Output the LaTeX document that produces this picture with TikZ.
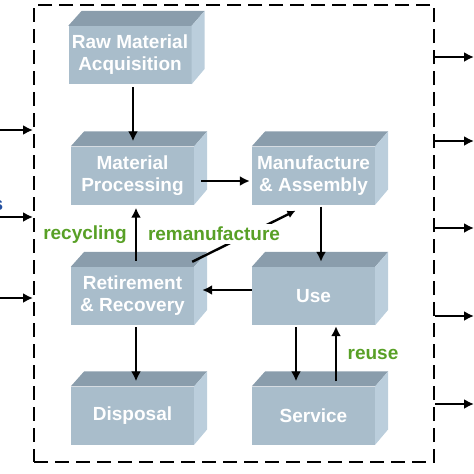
\documentclass[tikz,border=0pt]{standalone}
\usepackage{fontspec}
\setmainfont{Liberation Sans}
\usetikzlibrary{arrows.meta, positioning, calc}
\definecolor{frontc}{RGB}{169,189,203}
\definecolor{topc}{RGB}{138,157,172}
\definecolor{sidec}{RGB}{187,206,220}
\definecolor{labelgreen}{RGB}{88,160,38}
\definecolor{labelblue}{RGB}{36,80,160}
\tikzset{
  block/.style={fill=frontc, text=white, inner sep=0pt, minimum width=123pt, minimum height=58pt,
    align=center, font=\fontsize{19}{22}\selectfont\bfseries},
  flow/.style={line width=2.8pt, -{Latex[length=10pt,width=10pt]}},
  frame/.style={draw, line width=2pt, dash pattern=on 14pt off 7pt, minimum width=400pt, minimum height=457pt, inner sep=0pt},
  tag/.style={text=labelgreen, font=\fontsize{19}{22}\selectfont\bfseries, inner sep=1pt}
}
\begin{document}
\begin{tikzpicture}[x=1pt,y=-1pt]
\useasboundingbox (0,0) rectangle (474,474);
\node[frame] (frame) at (234,233.5) {};
% blocks
\node[block] (raw) at (130,55) {Raw Material\\Acquisition};
\node[block] (proc) at (132.5,175.5) {Material\\Processing};
\node[block] (manu) at (313.5,175.5) {Manufacture\\\& Assembly};
\node[block] (ret) at (132.5,296) {Retirement\\\& Recovery};
\node[block] (use) at (313.5,296) {Use};
\node[block] (disp) at (132.5,415.5) {Disposal};
\node[block] (serv) at (313.5,415.5) {Service};
\foreach \n in {raw,proc,manu,ret,use,disp,serv}{
  \fill[topc] (\n.north west) -- (\n.north east) -- ++(13,-15) -- ++(-123,0) -- cycle;
  \fill[sidec] (\n.north east) -- ++(13,-15) -- ++(0,58) -- (\n.south east) -- cycle;
}
% flows
\draw[flow, shorten <=3pt, shorten >=5pt] ([xshift=3pt]raw.south) -- ([xshift=0.5pt]proc.north);
\draw[flow, shorten <=7pt, shorten >=2pt] ([yshift=-5.5pt]proc.east) -- ([yshift=-5.5pt]manu.west);
\draw[flow, shorten <=2pt, shorten >=5pt] ([xshift=7.5pt]manu.south) -- ([xshift=7.5pt]use.north);
\draw[flow, shorten >=8pt] ([yshift=6pt]use.west) -- ([yshift=6pt]ret.east);
\draw[flow, shorten >=3pt] ([xshift=3.5pt,yshift=6pt]ret.north) -- ([xshift=3.5pt]proc.south);
\draw[flow, shorten <=2pt, shorten >=5pt] ([xshift=3.5pt]ret.south) -- ([xshift=3.5pt]disp.north);
\draw[flow, shorten <=2pt, shorten >=5pt] ([xshift=-17.5pt]use.south) -- ([xshift=-17.5pt]serv.north);
\draw[flow, shorten <=5pt, shorten >=1pt] ([xshift=22.5pt]serv.north) -- ([xshift=22.5pt]use.south);
\draw[line width=2.4pt, -{Latex[length=8pt,width=8pt]}] ([shift={(-2pt,5pt)}]ret.north east) -- ([shift={(-18pt,-6pt)}]manu.south);
% labels
\node[tag] (recyc) at (85,235) {recycling};
\node[tag, fill=white, inner sep=3pt] (reman) at (214,234) {remanufacture};
\node[tag] (reuse) at (373,354) {reuse};
\node[text=labelblue, font=\fontsize{19}{22}\selectfont\bfseries, anchor=east, inner sep=0pt] (cut) at (3.5,205) {s};
% inputs and outputs
\foreach \y [count=\i] in {130,217,298}{
  \coordinate (in\i) at (0,\y);
  \draw[flow] (in\i) -- (in\i -| frame.west);
}
\foreach \y [count=\i] in {57,141,228,316,404}{
  \coordinate (out\i) at (474,\y);
  \draw[flow] (out\i -| frame.east) -- (out\i);
}
\end{tikzpicture}
\end{document}
